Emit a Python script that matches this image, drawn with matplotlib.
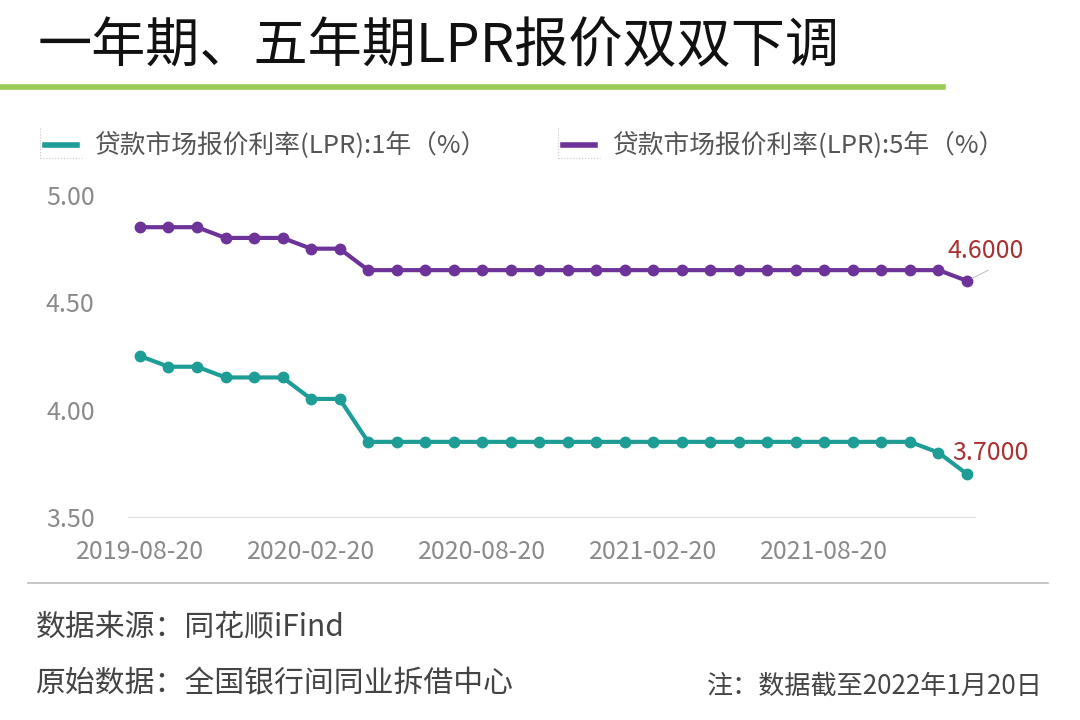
import matplotlib
matplotlib.use("Agg")
import matplotlib.pyplot as plt
from matplotlib.lines import Line2D

plt.rcParams['font.family'] = ['Noto Sans CJK SC', 'DejaVu Sans']

# =========================
# DATA
# =========================

dates = [
    "2019-08-20", "2019-09-20", "2019-10-21", "2019-11-20", "2019-12-20",
    "2020-01-20", "2020-02-20", "2020-03-20", "2020-04-20", "2020-05-20",
    "2020-06-22", "2020-07-20", "2020-08-20", "2020-09-21", "2020-10-20",
    "2020-11-20", "2020-12-21", "2021-01-20", "2021-02-20", "2021-03-22",
    "2021-04-20", "2021-05-20", "2021-06-21", "2021-07-20", "2021-08-20",
    "2021-09-22", "2021-10-20", "2021-11-22", "2021-12-20", "2022-01-20",
]
lpr_1y = [4.25, 4.20, 4.20, 4.15, 4.15, 4.15, 4.05, 4.05, 3.85, 3.85,
          3.85, 3.85, 3.85, 3.85, 3.85, 3.85, 3.85, 3.85, 3.85, 3.85,
          3.85, 3.85, 3.85, 3.85, 3.85, 3.85, 3.85, 3.85, 3.80, 3.70]
lpr_5y = [4.85, 4.85, 4.85, 4.80, 4.80, 4.80, 4.75, 4.75, 4.65, 4.65,
          4.65, 4.65, 4.65, 4.65, 4.65, 4.65, 4.65, 4.65, 4.65, 4.65,
          4.65, 4.65, 4.65, 4.65, 4.65, 4.65, 4.65, 4.65, 4.65, 4.60]
tick_idx = [0, 6, 12, 18, 24]
y_ticks = [3.50, 4.00, 4.50, 5.00]

teal = "#1e9d96"
purple = "#6e3399"
label_red = "#a83232"
grey = "#8a8a8a"

# =========================
# FIGURE
# =========================

fig = plt.figure(figsize=(10.8, 7.2), dpi=100)
fig.patch.set_facecolor("white")

ax = fig.add_axes([128 / 1080, 1 - 517 / 720, (975 - 128) / 1080, (517 - 195) / 720])
x = list(range(len(dates)))

ax.plot(x, lpr_1y, color=teal, lw=3, marker="o", ms=7.5, zorder=3)
ax.plot(x, lpr_5y, color=purple, lw=3, marker="o", ms=7.5, zorder=3)

ax.set_xlim(-0.42, 29.28)
ax.set_ylim(3.5, 5.0)
ax.set_yticks(y_ticks)
ax.set_yticklabels([f"{v:.2f}" for v in y_ticks])
ax.set_xticks(tick_idx)
ax.set_xticklabels([dates[i] for i in tick_idx])
ax.tick_params(axis="both", length=0, colors=grey, labelsize=18)
ax.tick_params(axis="x", pad=16)
ax.tick_params(axis="y", pad=24)

for s in ["top", "right", "left"]:
    ax.spines[s].set_visible(False)
ax.spines["bottom"].set_color("#e2e2e2")
ax.spines["bottom"].set_linewidth(1)

# last value labels
ax.annotate("", xy=(x[-1], lpr_5y[-1]), xytext=(x[-1] + 0.75, lpr_5y[-1] + 0.05),
            arrowprops=dict(arrowstyle="-", color="#bbbbbb", lw=0.7, shrinkA=0, shrinkB=4))
ax.text(x[-1] - 0.7, lpr_5y[-1] + 0.14, f"{lpr_5y[-1]:.4f}", color=label_red, fontsize=18,
        ha="left", va="center")
ax.text(x[-1] - 0.52, lpr_1y[-1] + 0.10, f"{lpr_1y[-1]:.4f}", color=label_red, fontsize=18,
        ha="left", va="center")

# =========================
# TITLE / LEGEND / FOOTER
# =========================

fig.text(38 / 1080, 1 - 47 / 720, "一年期、五年期LPR报价双双下调", fontsize=39,
         weight="normal", color="#111111", ha="left", va="center")
fig.add_artist(Line2D([0, 943 / 1080], [1 - 87 / 720, 1 - 87 / 720], color="#9acb55", lw=4))

legend_items = [(45, teal, "贷款市场报价利率(LPR):1年（%）"),
                (563, purple, "贷款市场报价利率(LPR):5年（%）")]
for x0, col, txt in legend_items:
    yy = 1 - 145 / 720
    fig.add_artist(Line2D([x0 / 1080, (x0 + 32) / 1080], [yy, yy], color=col, lw=4))
    # faint dotted frame around the legend swatch
    fig.add_artist(Line2D([(x0 - 5) / 1080, (x0 - 5) / 1080], [1 - 128 / 720, 1 - 158 / 720],
                          color="#c8c8c8", lw=0.8, ls=":"))
    fig.add_artist(Line2D([(x0 - 5) / 1080, (x0 + 37) / 1080], [1 - 158 / 720, 1 - 158 / 720],
                          color="#c8c8c8", lw=0.8, ls=":"))
    fig.text((x0 + 50) / 1080, yy, txt, fontsize=18.5, color="#555555",
             ha="left", va="center")

fig.add_artist(Line2D([28 / 1080, 1048 / 1080], [1 - 583 / 720, 1 - 583 / 720], color="#bdbdbd", lw=1.2))

fig.text(36 / 1080, 1 - 628 / 720, "数据来源：同花顺iFind", fontsize=21.5,
         color="#444444", ha="left", va="center")
fig.text(36 / 1080, 1 - 684 / 720, "原始数据：全国银行间同业拆借中心", fontsize=21.5,
         color="#444444", ha="left", va="center")
fig.text(1043 / 1080, 1 - 686 / 720, "注：数据截至2022年1月20日", fontsize=18.8,
         color="#444444", ha="right", va="center")

fig.savefig("out.png", dpi=100, facecolor="white")
